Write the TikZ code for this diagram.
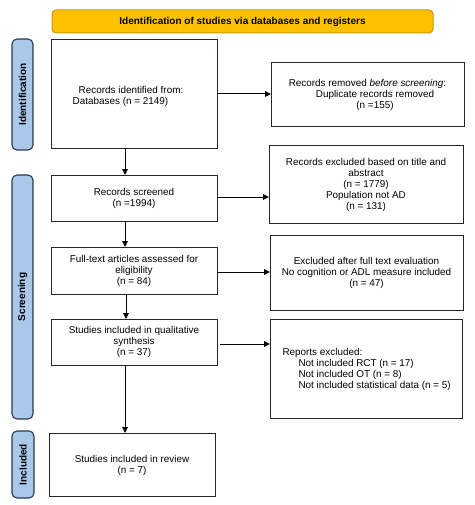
\documentclass[tikz,border=0pt]{standalone}
\usepackage{fontspec}
\setmainfont{Liberation Sans}
\usetikzlibrary{arrows.meta}
\definecolor{bannerfill}{HTML}{FFC000}
\definecolor{bannerline}{HTML}{C8960A}
\definecolor{sidefill}{HTML}{A9C8EA}
\definecolor{sideline}{HTML}{2B3A4A}
\tikzset{
  box/.style={draw=black!85, line width=1pt, fill=white, inner sep=0pt},
  txt/.style={font=\fontsize{9.9}{11}\selectfont, align=center},
  side/.style={draw=sideline, line width=1.1pt, fill=sidefill, rounded corners=5pt},
  sidelabel/.style={font=\fontsize{10}{11}\selectfont\bfseries, rotate=90},
  flow/.style={line width=1pt, -{Triangle[length=6pt,width=5.5pt]}},
}
\begin{document}
\begin{tikzpicture}[x=1pt,y=-1pt]
\useasboundingbox (0,0) rectangle (474,505);
% banner
\draw[draw=bannerline, line width=1pt, fill=bannerfill, rounded corners=4pt] (52,10) rectangle (433,33);
\node[font=\fontsize{10}{11}\selectfont\bfseries] (banner) at (242.5,21.5) {Identification of studies via databases and registers};
% side bars
\draw[side] (12,39) rectangle (33,150);
\node[sidelabel] (lid) at (22.5,94.5) {Identification};
\draw[side] (12,175) rectangle (33,419);
\node[sidelabel] (lsc) at (22.5,297) {Screening};
\draw[side] (12,431) rectangle (34,498);
\node[sidelabel] (lin) at (23,464.5) {Included};
% boxes
\draw[box] (51,40) rectangle (217,149);
\node[txt, align=left] (t1) at (128,96) {\hspace*{6pt}Records identified from:\\Databases (n = 2149)};
\draw[box] (271,63) rectangle (464,127);
\node[txt] (t2) at (367.5,95) {Records removed \textit{before screening}:\\\hspace*{15pt}Duplicate records removed\\\hspace*{15pt}(n =155)};
\draw[box] (51,175) rectangle (217,221);
\node[txt] (t3) at (134,198) {Records screened\\(n =1994)};
\draw[box] (269,146) rectangle (463,223);
\node[txt] (t4) at (366,184.5) {Records excluded based on title and\\abstract\\(n = 1779)\\Population not AD\\(n = 131)};
\draw[box] (51,247) rectangle (217,294);
\node[txt] (t5) at (134,270.5) {Full-text articles assessed for\\eligibility\\(n = 84)};
\draw[box] (270,235) rectangle (463,310);
\node[txt] (t6) at (366.5,272.5) {Excluded after full text evaluation\\No cognition or ADL measure included\\(n = 47)};
\draw[box] (51,319) rectangle (217,365);
\node[txt] (t7) at (134,342) {Studies included in qualitative\\synthesis\\(n = 37)};
\draw[box] (270,319) rectangle (462,418);
\node[txt, align=left, anchor=west] (t8) at (279,369.5) {Reports excluded:\\\hspace*{16pt}Not included RCT (n = 17)\\\hspace*{16pt}Not included OT (n = 8)\\\hspace*{16pt}Not included statistical data (n = 5)};
\draw[box] (49,433) rectangle (215,496);
\node[txt] (t9) at (132,465) {Studies included in review\\(n = 7)};
% connectors
\coordinate (a1) at (125,149); \coordinate (a1e) at (125,175);
\coordinate (a2) at (125,221); \coordinate (a2e) at (125,247);
\coordinate (a3) at (126,294); \coordinate (a3e) at (126,319);
\coordinate (a4) at (125,365); \coordinate (a4e) at (125,433);
\draw[flow] (a1) -- (a1e);
\draw[flow] (a2) -- (a2e);
\draw[flow] (a3) -- (a3e);
\draw[flow] (a4) -- (a4e);
\coordinate (h1) at (217,94); \coordinate (h1e) at (271,94);
\coordinate (h2) at (217,197); \coordinate (h2e) at (269,197);
\coordinate (h3) at (217,272); \coordinate (h3e) at (270,272);
\coordinate (h4) at (220,344); \coordinate (h4e) at (270,344);
\draw[flow] (h1) -- (h1e);
\draw[flow] (h2) -- (h2e);
\draw[flow] (h3) -- (h3e);
\draw[flow] (h4) -- (h4e);
\end{tikzpicture}
\end{document}
